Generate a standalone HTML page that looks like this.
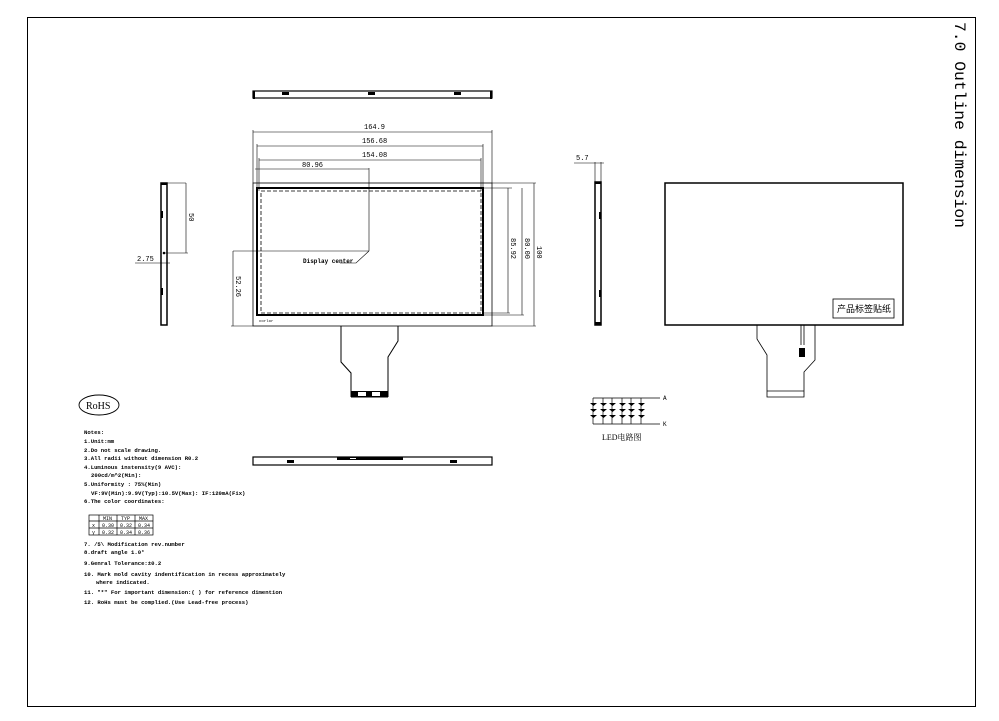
<!DOCTYPE html>
<html><head><meta charset="utf-8"><style>
body{margin:0;background:#fff;}
svg{display:block;}
text{font-family:"Liberation Mono","Noto Sans CJK SC",monospace;fill:#000;}
</style></head><body>
<svg width="999" height="721" viewBox="0 0 999 721" xmlns="http://www.w3.org/2000/svg">
<rect x="0" y="0" width="999" height="721" fill="#fff"/>
<rect x="27.5" y="17.5" width="948" height="689" fill="none" stroke="#000" stroke-width="1"/>
<text transform="translate(955,22) rotate(90)" style="font-size:16px;font-family:'Liberation Mono',monospace" textLength="206" lengthAdjust="spacingAndGlyphs">7.0 Outline dimension</text>

<!-- top strip -->
<rect x="253" y="91" width="239" height="7" fill="none" stroke="#000" stroke-width="1.2"/>
<rect x="253" y="91" width="2" height="8" fill="#000"/><rect x="490" y="91" width="2" height="8" fill="#000"/>
<rect x="282" y="92" width="7" height="3" fill="#000"/><rect x="368" y="92" width="7" height="3" fill="#000"/><rect x="454" y="92" width="7" height="3" fill="#000"/>

<!-- front view -->
<g fill="none" stroke="#000">
<rect x="253" y="183" width="239" height="143" stroke-width="0.8"/>
<rect x="257" y="188" width="226" height="127" stroke-width="2"/>
<rect x="261" y="191" width="220" height="122" stroke-width="0.8" stroke-dasharray="4,2"/>
<g stroke-width="0.6">
<line x1="253" y1="132" x2="492" y2="132"/><line x1="253" y1="130" x2="253" y2="183"/><line x1="492" y1="130" x2="492" y2="183"/>
<line x1="257" y1="146" x2="483" y2="146"/><line x1="257" y1="144" x2="257" y2="188"/><line x1="483" y1="144" x2="483" y2="188"/>
<line x1="259" y1="160" x2="481" y2="160"/><line x1="259" y1="158" x2="259" y2="191"/><line x1="481" y1="158" x2="481" y2="191"/>
<line x1="255" y1="169" x2="369" y2="169"/><line x1="369" y1="168" x2="369" y2="251"/>
<polyline points="369,251 356,263 340,263"/>
<line x1="233" y1="251" x2="369" y2="251"/><line x1="233" y1="251" x2="233" y2="326"/><line x1="231" y1="326" x2="253" y2="326"/>
<line x1="483" y1="188" x2="512" y2="188"/><line x1="483" y1="313" x2="510" y2="313"/><line x1="508" y1="188" x2="508" y2="313"/>
<line x1="483" y1="315" x2="524" y2="315"/><line x1="522" y1="188" x2="522" y2="315"/>
<line x1="492" y1="183" x2="536" y2="183"/><line x1="492" y1="326" x2="536" y2="326"/><line x1="534" y1="183" x2="534" y2="326"/>
</g>
<polyline points="341,326 341,362 351,373 351,397" stroke-width="1"/>
<polyline points="398,326 398,341 388,357 388,397" stroke-width="1"/>
<line x1="351" y1="397" x2="388" y2="397" stroke-width="1"/>
</g>
<rect x="351" y="391" width="37" height="6" fill="#000"/><rect x="358" y="392" width="8" height="4" fill="#fff"/><rect x="372" y="392" width="8" height="4" fill="#fff"/>
<g style="font-size:7px">
<text x="364" y="129">164.9</text><text x="362" y="143">156.68</text><text x="362" y="157">154.08</text><text x="302" y="167">80.96</text>
<text x="303" y="263" style="font-size:6px;font-weight:bold">Display center</text>
<text x="259" y="322" style="font-size:4px">corlor</text>
<text transform="translate(236,276) rotate(90)">52.26</text>
<text transform="translate(511,238) rotate(90)">85.92</text>
<text transform="translate(525,238) rotate(90)">80.00</text>
<text transform="translate(537,246) rotate(90)">100</text>
</g>

<!-- left side view -->
<rect x="161" y="183" width="6" height="142" fill="none" stroke="#000" stroke-width="1.5"/>
<rect x="161" y="183" width="6" height="2" fill="#000"/>
<rect x="161" y="211" width="2" height="7" fill="#000"/><rect x="161" y="288" width="2" height="7" fill="#000"/>
<g stroke="#000" stroke-width="0.6" fill="none">
<line x1="167" y1="183" x2="186" y2="183"/><line x1="186" y1="183" x2="186" y2="253"/><line x1="164" y1="253" x2="188" y2="253"/>
<line x1="135" y1="263" x2="170" y2="263"/><line x1="161" y1="258" x2="161" y2="267"/><line x1="167" y1="258" x2="167" y2="267"/>
</g>
<circle cx="164" cy="253" r="1.3" fill="#000"/>
<text style="font-size:7px" x="137" y="261">2.75</text>
<text transform="translate(189,213) rotate(90)" style="font-size:7px">50</text>

<!-- bottom strip -->
<rect x="253" y="457" width="239" height="8" fill="none" stroke="#000" stroke-width="1.2"/>
<rect x="337" y="457" width="66" height="3" fill="#000"/><rect x="350" y="458" width="6" height="1" fill="#fff"/>
<rect x="450" y="460" width="7" height="3" fill="#000"/><rect x="287" y="460" width="7" height="3" fill="#000"/>

<!-- right side view -->
<rect x="595" y="182" width="6" height="143" fill="none" stroke="#000" stroke-width="1.5"/>
<rect x="599" y="212" width="2" height="7" fill="#000"/><rect x="599" y="290" width="2" height="7" fill="#000"/>
<rect x="595" y="322" width="6" height="3" fill="#000"/><rect x="595" y="182" width="6" height="2" fill="#000"/>
<g stroke="#000" stroke-width="0.6"><line x1="595" y1="162" x2="595" y2="182"/><line x1="601" y1="162" x2="601" y2="182"/><line x1="574" y1="163" x2="604" y2="163"/></g>
<text style="font-size:7px" x="576" y="160">5.7</text>

<!-- back view -->
<rect x="665" y="183" width="238" height="142" fill="none" stroke="#000" stroke-width="1.5"/>
<rect x="833" y="299" width="61" height="19" fill="none" stroke="#000" stroke-width="0.8"/>
<text x="837" y="312" style="font-size:9px;font-family:'Noto Sans CJK SC',sans-serif">产品标签贴纸</text>
<g fill="none" stroke="#000" stroke-width="0.8">
<polyline points="757,325 757,339 767,355 767,397 804,397 804,372 815,360 815,325"/>
<line x1="767" y1="391" x2="804" y2="391"/>
<line x1="801" y1="325" x2="801" y2="345"/><line x1="804" y1="325" x2="804" y2="345"/>
</g>
<rect x="799" y="348" width="6" height="9" fill="#000"/>

<!-- LED -->
<g stroke="#000" stroke-width="0.7">
<line x1="593" y1="398" x2="660" y2="398"/><line x1="593" y1="424" x2="660" y2="424"/>
<line x1="593" y1="398" x2="593" y2="424"/><line x1="603" y1="398" x2="603" y2="424"/><line x1="612" y1="398" x2="612" y2="424"/>
<line x1="622" y1="398" x2="622" y2="424"/><line x1="631" y1="398" x2="631" y2="424"/><line x1="641" y1="398" x2="641" y2="424"/>
</g>
<g fill="#000">
<path d="M590,403h7l-3.5,3z M590,409h7l-3.5,3z M590,415h7l-3.5,3z"/>
<path d="M600,403h7l-3.5,3z M600,409h7l-3.5,3z M600,415h7l-3.5,3z"/>
<path d="M609,403h7l-3.5,3z M609,409h7l-3.5,3z M609,415h7l-3.5,3z"/>
<path d="M619,403h7l-3.5,3z M619,409h7l-3.5,3z M619,415h7l-3.5,3z"/>
<path d="M628,403h7l-3.5,3z M628,409h7l-3.5,3z M628,415h7l-3.5,3z"/>
<path d="M638,403h7l-3.5,3z M638,409h7l-3.5,3z M638,415h7l-3.5,3z"/>
</g>
<text x="663" y="400" style="font-size:6px">A</text><text x="663" y="426" style="font-size:6px">K</text>
<text x="602" y="440" style="font-size:8px;font-family:'Liberation Serif','Noto Serif CJK SC',serif">LED电路图</text>

<!-- RoHS -->
<ellipse cx="99" cy="405" rx="20" ry="10" fill="none" stroke="#000" stroke-width="0.9"/>
<text x="86" y="409" style="font-size:10px;font-family:'Liberation Serif',serif">RoHS</text>

<!-- notes -->
<g style="font-size:5.6px;font-weight:bold">
<text x="84" y="434">Notes:</text>
<text x="84" y="443">1.Unit:mm</text>
<text x="84" y="452">2.Do not scale drawing.</text>
<text x="84" y="460">3.All radii without dimension R0.2</text>
<text x="84" y="469">4.Luminous instensity(9 AVC):</text>
<text x="91" y="477">200cd/m^2(Min):</text>
<text x="84" y="486">5.Uniformity : 75%(Min)</text>
<text x="91" y="495">VF:9V(Min):9.9V(Typ):10.5V(Max): IF:120mA(Fix)</text>
<text x="84" y="503">6.The color coordinates:</text>
<text x="84" y="546">7. /5\ Modification rev.number</text>
<text x="84" y="554">8.draft angle 1.0°</text>
<text x="84" y="565">9.Genral Tolerance:±0.2</text>
<text x="84" y="576">10. Mark mold cavity indentification in recess  approximately</text>
<text x="96" y="584">where indicated.</text>
<text x="84" y="594">11. "*" For important dimension:( ) for reference dimention</text>
<text x="84" y="604">12. RoHs must be complied.(Use Lead-free process)</text>
</g>
<g fill="none" stroke="#000" stroke-width="0.7">
<rect x="89" y="515" width="64" height="20"/>
<line x1="89" y1="521" x2="153" y2="521"/><line x1="89" y1="528" x2="153" y2="528"/>
<line x1="99" y1="515" x2="99" y2="535"/><line x1="117" y1="515" x2="117" y2="535"/><line x1="135" y1="515" x2="135" y2="535"/>
</g>
<g style="font-size:5px">
<text x="103" y="520">MIN</text><text x="121" y="520">TYP</text><text x="139" y="520">MAX</text>
<text x="92" y="527">x</text><text x="102" y="527">0.30</text><text x="120" y="527">0.32</text><text x="138" y="527">0.34</text>
<text x="92" y="534">y</text><text x="102" y="534">0.32</text><text x="120" y="534">0.34</text><text x="138" y="534">0.36</text>
</g>
</svg>
</body></html>
